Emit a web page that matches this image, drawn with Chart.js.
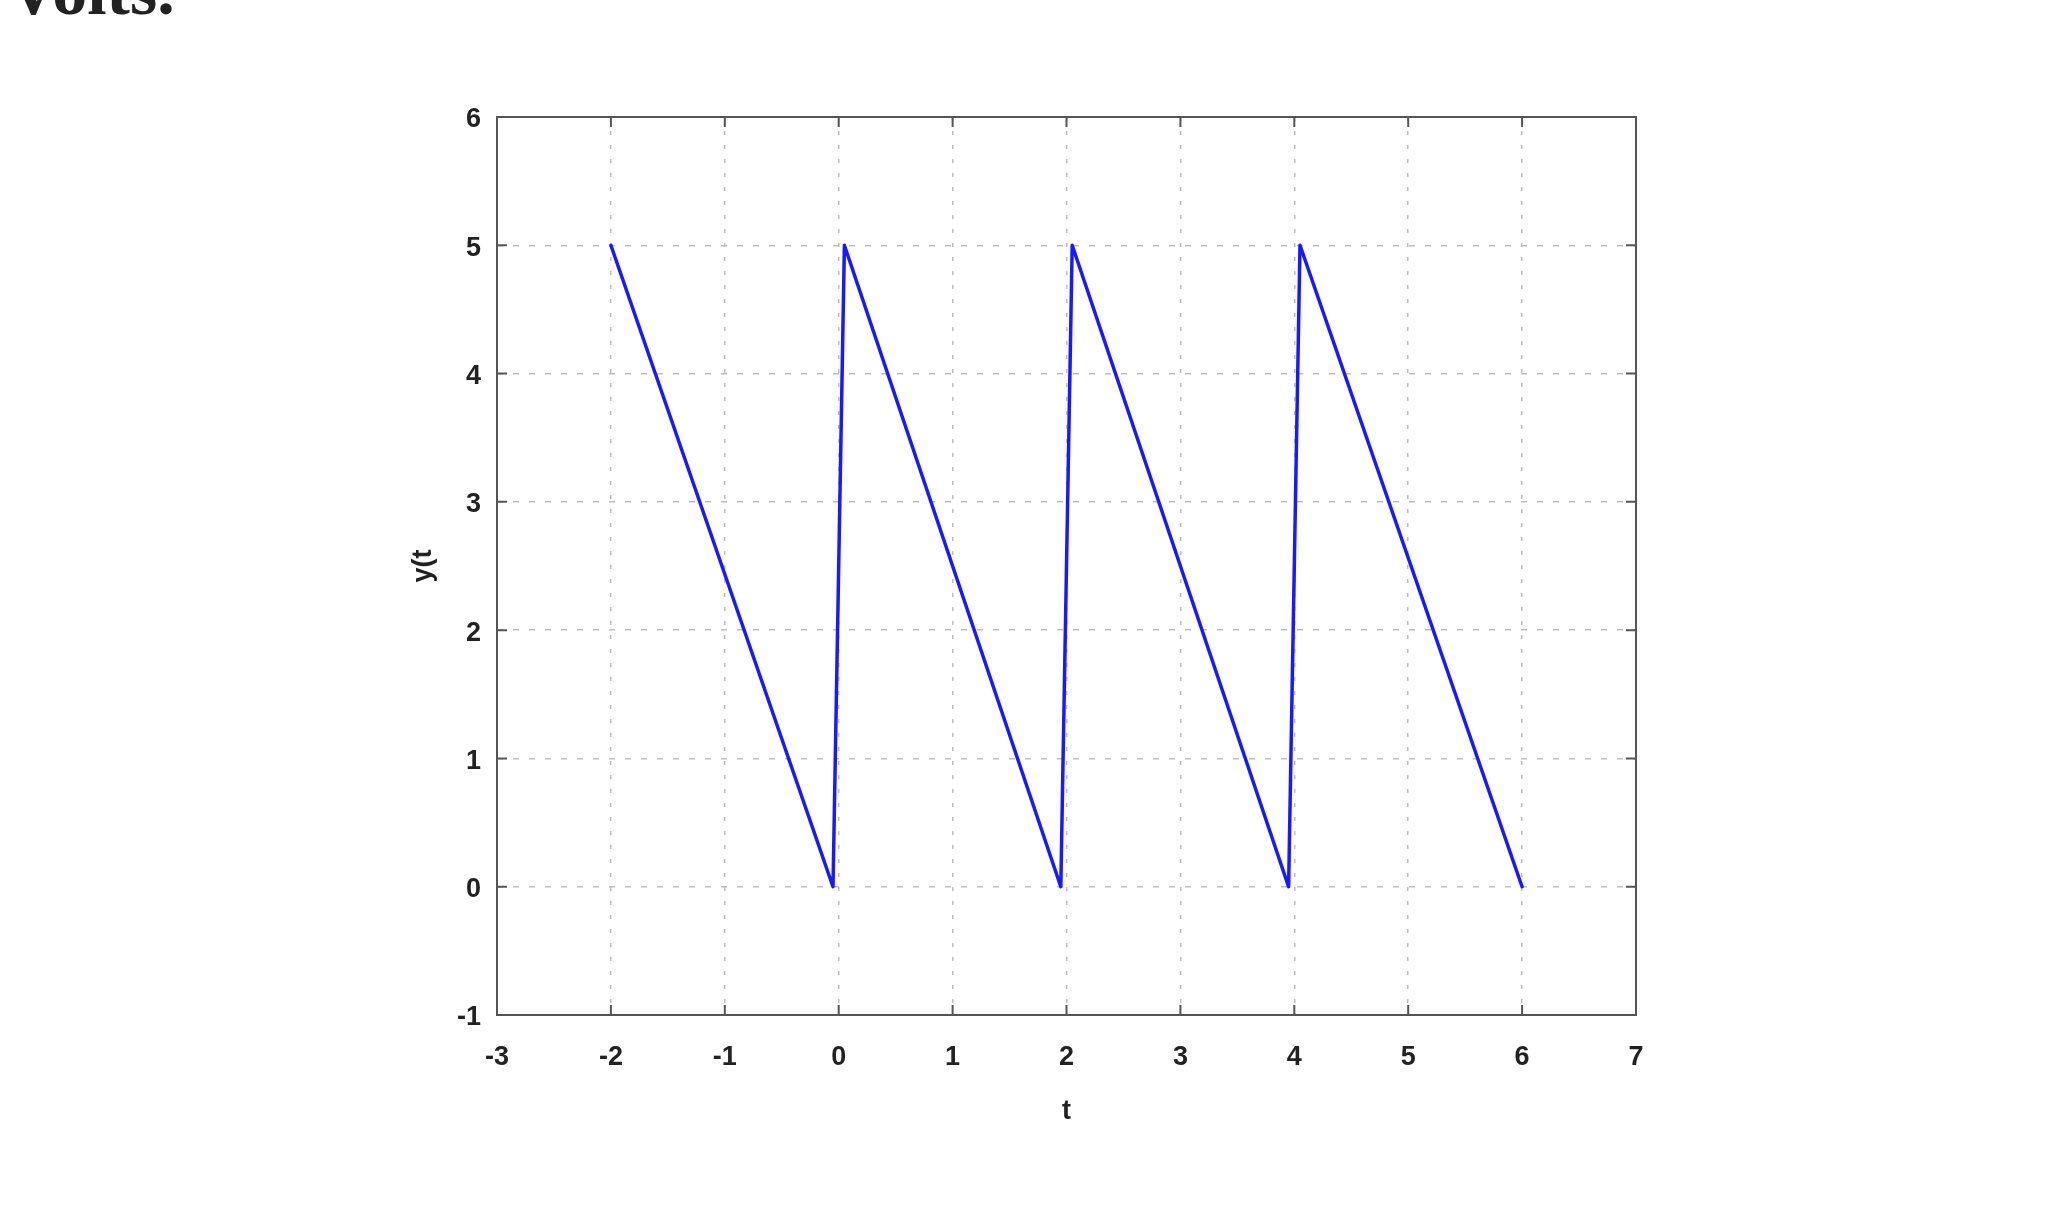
<!DOCTYPE html>
<html>
<head>
<meta charset="utf-8">
<script src="https://cdn.jsdelivr.net/npm/chart.js@4"></script>
<style>
  html, body { margin: 0; padding: 0; background: #fff; overflow: hidden; }
  #wrap { position: relative; width: 2046px; height: 1206px; }
  #top { position: absolute; left: 8px; top: -44px; font: bold 70px "Liberation Serif", serif; line-height: 1; color: #222; }
</style>
</head>
<body>
<div id="wrap">
  <div id="top">Volts.</div>
  <canvas id="myChart" width="2046" height="1206"></canvas>
</div>
<script>
// sawtooth samples
const tempo = [-2, -0.05, 0.05, 1.95, 2.05, 3.95, 4.05, 6];
const valores = [5, 0, 5, 0, 5, 0, 5, 0];
const xTicks = [-3, -2, -1, 0, 1, 2, 3, 4, 5, 6, 7];
const yTicks = [-1, 0, 1, 2, 3, 4, 5, 6];

const pontos = tempo.map((t, i) => ({ x: t, y: valores[i] }));

const fonte = { family: '"Liberation Sans", Arial, sans-serif', size: 27, weight: 'bold' };

// moldura + tracinhos pra dentro
const moldura = {
  id: 'moldura',
  afterDraw(chart) {
    const { ctx, chartArea: a, scales } = chart;
    ctx.save();
    ctx.setLineDash([]);
    ctx.strokeStyle = '#555';
    ctx.lineWidth = 2;
    ctx.strokeRect(a.left, a.top, a.right - a.left, a.bottom - a.top);
    ctx.beginPath();
    xTicks.forEach(v => {
      const px = scales.x.getPixelForValue(v);
      ctx.moveTo(px, a.bottom); ctx.lineTo(px, a.bottom - 10);
      ctx.moveTo(px, a.top); ctx.lineTo(px, a.top + 10);
    });
    yTicks.forEach(v => {
      const py = scales.y.getPixelForValue(v);
      ctx.moveTo(a.left, py); ctx.lineTo(a.left + 10, py);
      ctx.moveTo(a.right, py); ctx.lineTo(a.right - 10, py);
    });
    ctx.stroke();
    ctx.restore();
  }
};

const ctx = document.getElementById('myChart').getContext('2d');

new Chart(ctx, {
  type: 'line',
  data: {
    datasets: [{
      data: pontos,
      borderColor: 'rgb(25, 25, 255)',
      borderWidth: 3.5,
      borderJoinStyle: 'round',
      borderCapStyle: 'round',
      pointRadius: 0,
      tension: 0
    }]
  },
  options: {
    responsive: false,
    animation: false,
    layout: { padding: { left: 387, right: 410, top: 117, bottom: 61 } },
    plugins: { legend: { display: false }, tooltip: { enabled: false } },
    scales: {
      x: {
        type: 'linear',
        min: -3, max: 7,
        afterFit: s => { s.height = 130; },
        afterBuildTicks: s => { s.ticks = xTicks.map(v => ({ value: v })); },
        ticks: { font: fonte, color: '#222', padding: 26 },
        grid: { color: '#bdbdbd', lineWidth: 1.5, drawTicks: false },
        border: { display: false, dash: [4, 10] },
        title: { display: true, text: 't', font: fonte, color: '#222', padding: { top: 0, bottom: 17 } }
      },
      y: {
        type: 'linear',
        min: -1, max: 6,
        afterFit: s => { s.width = 110; },
        afterBuildTicks: s => { s.ticks = yTicks.map(v => ({ value: v })); },
        ticks: { font: fonte, color: '#222', padding: 16, labelOffset: 3 },
        grid: { color: '#bdbdbd', lineWidth: 1.5, drawTicks: false },
        border: { display: false, dash: [6, 10] },
        title: { display: true, text: 'y(t', font: fonte, color: '#222', padding: { top: 20, bottom: 0 } }
      }
    }
  },
  plugins: [moldura]
});
</script>
</body>
</html>
